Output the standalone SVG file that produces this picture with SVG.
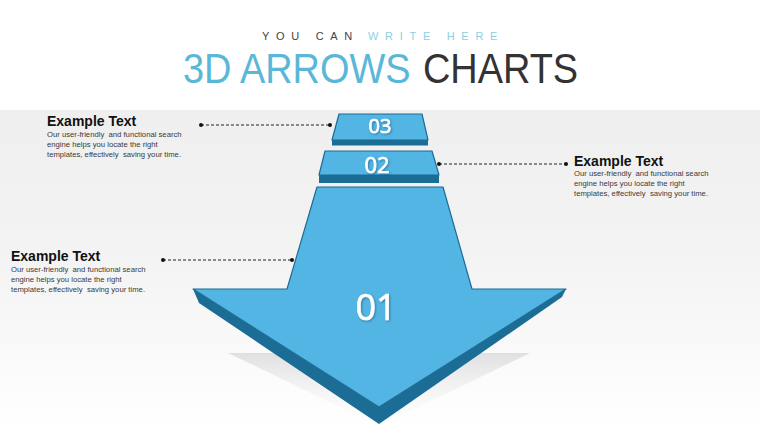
<svg xmlns="http://www.w3.org/2000/svg" width="760" height="428" viewBox="0 0 760 428">
<defs>
<linearGradient id="bg" x1="0" y1="0" x2="0" y2="1">
<stop offset="0" stop-color="#efefef"/>
<stop offset="0.45" stop-color="#f3f3f3"/>
<stop offset="1" stop-color="#ffffff"/>
</linearGradient>
<linearGradient id="sh" x1="0" y1="0" x2="0" y2="1">
<stop offset="0" stop-color="#e0e0e0"/>
<stop offset="1" stop-color="#f6f6f6" stop-opacity="0"/>
</linearGradient>
<filter id="ds" x="-20%" y="-20%" width="140%" height="140%">
<feDropShadow dx="1" dy="1" stdDeviation="0.8" flood-color="#0b4b6e" flood-opacity="0.55"/>
</filter>
<style>
.face{fill:#53b5e4;stroke:#1d6c94;stroke-width:1.2;stroke-linejoin:round}
.side{fill:#1b6d96}
.num{font-family:"Open Sans","Liberation Sans",sans-serif;font-weight:400;fill:#ffffff;stroke:#ffffff;stroke-width:0.7;text-anchor:middle;filter:url(#ds)}
.hd{font-family:"Liberation Sans",Arial,sans-serif;font-weight:bold;font-size:14px;fill:#111}
.bd{font-family:"Liberation Sans",Arial,sans-serif;font-size:7.7px;fill:#3a3a3a}
.sub{font-family:"Liberation Sans",Arial,sans-serif;font-size:11px;letter-spacing:6.7px}
.ttl{font-family:"Liberation Sans",Arial,sans-serif;font-size:43px}
.dash{stroke:#222;stroke-width:1;stroke-dasharray:3 2;fill:none}
.dot{fill:#111}
</style>
</defs>
<rect width="760" height="428" fill="#ffffff"/>
<rect y="110" width="760" height="318" fill="url(#bg)"/>
<g id="title">
<text class="sub" x="262" y="40" fill="#444">YOU CAN</text>
<text class="sub" x="368" y="40" fill="#8dcfe0">WRITE HERE</text>
<g transform="translate(183,83) scale(0.882,1)">
<text class="ttl" x="0" y="0" fill="#5bb7d7">3D ARROWS</text>
<text class="ttl" x="272" y="0" fill="#333333">CHARTS</text>
</g>
</g>
<polygon id="shadow" points="228,353 530,353 379,426" fill="url(#sh)"/>
<g id="node-01">
<polygon class="side" points="193,289 199,303 379,424 562,297 566,289 379,407"/>
<polygon class="face" points="317,187 443,187 472,289 566,289 379,407 193,289 287,289"/>
<text class="num" x="376" y="319.5" font-size="36">01</text>
</g>
<g id="node-02">
<rect class="side" x="319" y="175" width="120" height="8"/>
<polygon class="face" points="325,151 432,151 439,175 319,175"/>
<text class="num" x="377" y="173.3" font-size="22">02</text>
</g>
<g id="node-03">
<rect class="side" x="332" y="140" width="96" height="5.5"/>
<polygon class="face" points="339,114 422,114 428,140 332,140"/>
<text class="num" x="380" y="133.3" font-size="20">03</text>
</g>
<g id="connectors">
<line class="dash" x1="201" y1="125" x2="330" y2="125"/>
<circle class="dot" cx="201" cy="125" r="2"/><circle class="dot" cx="330" cy="125" r="2"/>
<line class="dash" x1="439" y1="164" x2="566" y2="164"/>
<circle class="dot" cx="439" cy="164" r="2"/><circle class="dot" cx="566" cy="164" r="2"/>
<line class="dash" x1="163" y1="260" x2="292" y2="260"/>
<circle class="dot" cx="163" cy="260" r="2"/><circle class="dot" cx="292" cy="260" r="2"/>
</g>
<g id="label-03">
<text class="hd" x="47" y="126">Example Text</text>
<text class="bd" x="47" y="136.5" xml:space="preserve">Our user-friendly  and functional search</text>
<text class="bd" x="47" y="146.5">engine helps you locate the right</text>
<text class="bd" x="47" y="156.5" xml:space="preserve">templates, effectively  saving your time.</text>
</g>
<g id="label-02">
<text class="hd" x="574" y="165.5">Example Text</text>
<text class="bd" x="574" y="176" xml:space="preserve">Our user-friendly  and functional search</text>
<text class="bd" x="574" y="186">engine helps you locate the right</text>
<text class="bd" x="574" y="196" xml:space="preserve">templates, effectively  saving your time.</text>
</g>
<g id="label-01">
<text class="hd" x="11" y="261">Example Text</text>
<text class="bd" x="11" y="271.5" xml:space="preserve">Our user-friendly  and functional search</text>
<text class="bd" x="11" y="281.5">engine helps you locate the right</text>
<text class="bd" x="11" y="291.5" xml:space="preserve">templates, effectively  saving your time.</text>
</g>
</svg>
